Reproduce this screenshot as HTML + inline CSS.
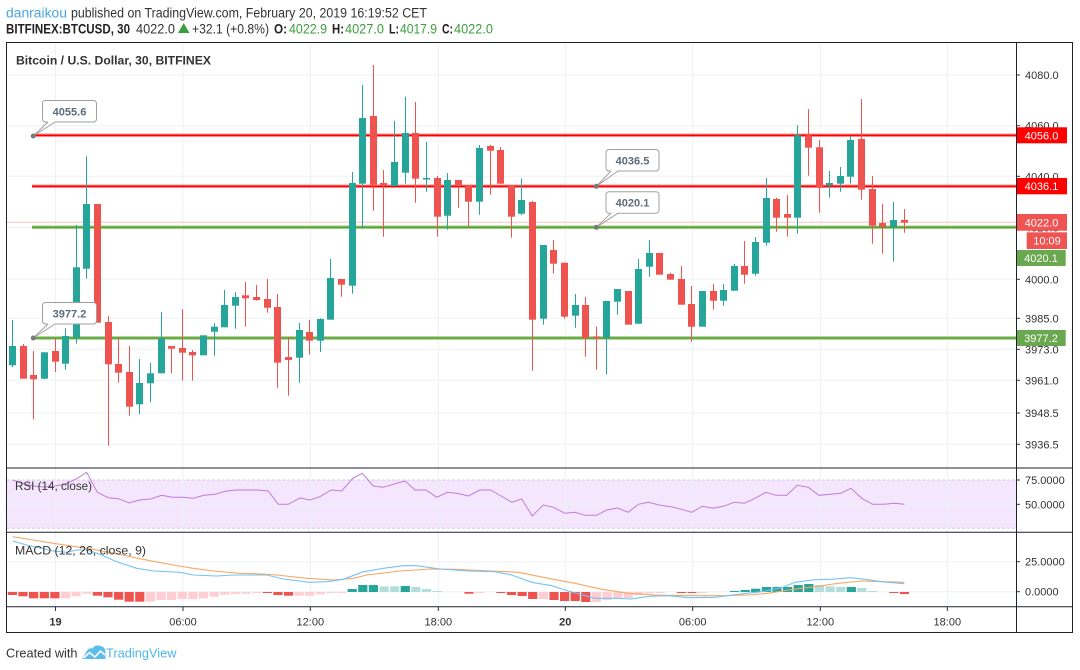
<!DOCTYPE html>
<html><head><meta charset="utf-8"><style>
html,body{margin:0;padding:0;background:#fff;}
svg{display:block;font-family:"Liberation Sans",Arial,sans-serif;}
</style></head><body>
<svg width="1080" height="670" viewBox="0 0 1080 670" xmlns="http://www.w3.org/2000/svg">
<rect width="1080" height="670" fill="#fff"/>
<!-- header -->
<text x="6" y="17.5" font-size="13.5" fill="#4aa8df" textLength="61" lengthAdjust="spacingAndGlyphs">danraikou</text>
<text x="71" y="17.5" font-size="13.5" fill="#333" textLength="356" lengthAdjust="spacingAndGlyphs">published on TradingView.com, February 20, 2019 16:19:52 CET</text>
<g font-size="13.5">
<text x="6" y="33.5" font-weight="bold" fill="#222" textLength="124" lengthAdjust="spacingAndGlyphs">BITFINEX:BTCUSD, 30</text>
<text x="136" y="33.5" fill="#333" textLength="39" lengthAdjust="spacingAndGlyphs">4022.0</text>
<polygon points="178,33 189.5,33 183.7,23" fill="#3a9f3a"/>
<text x="192" y="33.5" fill="#333" textLength="77" lengthAdjust="spacingAndGlyphs">+32.1 (+0.8%)</text>
<text x="274" y="33.5" font-weight="bold" fill="#222" textLength="13" lengthAdjust="spacingAndGlyphs">O:</text>
<text x="289" y="33.5" fill="#3a9f3a" textLength="38" lengthAdjust="spacingAndGlyphs">4022.9</text>
<text x="332" y="33.5" font-weight="bold" fill="#222" textLength="12" lengthAdjust="spacingAndGlyphs">H:</text>
<text x="345" y="33.5" fill="#3a9f3a" textLength="39" lengthAdjust="spacingAndGlyphs">4027.0</text>
<text x="389" y="33.5" font-weight="bold" fill="#222" textLength="10" lengthAdjust="spacingAndGlyphs">L:</text>
<text x="400" y="33.5" fill="#3a9f3a" textLength="37" lengthAdjust="spacingAndGlyphs">4017.9</text>
<text x="442" y="33.5" font-weight="bold" fill="#222" textLength="11" lengthAdjust="spacingAndGlyphs">C:</text>
<text x="454" y="33.5" fill="#3a9f3a" textLength="39" lengthAdjust="spacingAndGlyphs">4022.0</text>
</g>

<!-- RSI band -->
<rect x="7" y="480" width="1009" height="48.3" fill="#f3e6fd"/>
<line x1="7" y1="480" x2="1016" y2="480" stroke="#d9c7e8" stroke-dasharray="3,2"/>
<line x1="7" y1="528.3" x2="1016" y2="528.3" stroke="#d9c7e8" stroke-dasharray="3,2"/>

<!-- grid -->
<g stroke="#edf1f6" stroke-width="1">
<line x1="7" y1="75" x2="1016" y2="75"/><line x1="7" y1="125.7" x2="1016" y2="125.7"/><line x1="7" y1="176.3" x2="1016" y2="176.3"/><line x1="7" y1="227.5" x2="1016" y2="227.5"/><line x1="7" y1="279.3" x2="1016" y2="279.3"/><line x1="7" y1="318.3" x2="1016" y2="318.3"/><line x1="7" y1="349.3" x2="1016" y2="349.3"/><line x1="7" y1="380.3" x2="1016" y2="380.3"/><line x1="7" y1="413" x2="1016" y2="413"/><line x1="7" y1="444.3" x2="1016" y2="444.3"/>
<line x1="7" y1="504.3" x2="1016" y2="504.3"/><line x1="7" y1="561.7" x2="1016" y2="561.7"/><line x1="7" y1="591.7" x2="1016" y2="591.7"/>
<line x1="55.5" y1="42" x2="55.5" y2="607"/><line x1="183" y1="42" x2="183" y2="607"/><line x1="310.3" y1="42" x2="310.3" y2="607"/><line x1="438.3" y1="42" x2="438.3" y2="607"/><line x1="565.3" y1="42" x2="565.3" y2="607"/><line x1="692.7" y1="42" x2="692.7" y2="607"/><line x1="820.3" y1="42" x2="820.3" y2="607"/><line x1="947.3" y1="42" x2="947.3" y2="607"/>
</g>

<text x="16" y="64.3" font-size="11.7" font-weight="bold" fill="#333" textLength="195" lengthAdjust="spacingAndGlyphs">Bitcoin / U.S. Dollar, 30, BITFINEX</text>

<!-- current price line -->
<line x1="7" y1="222.3" x2="1016" y2="222.3" stroke="#f9c6c6" stroke-width="1"/>

<!-- horizontal drawn lines -->
<g>
<line x1="33" y1="135.3" x2="1016" y2="135.3" stroke="#ff9a9a" stroke-width="3.5"/>
<line x1="33" y1="135.3" x2="1016" y2="135.3" stroke="#ff0000" stroke-width="1.7"/>
<line x1="32" y1="186.3" x2="1016" y2="186.3" stroke="#ff9a9a" stroke-width="3.5"/>
<line x1="32" y1="186.3" x2="1016" y2="186.3" stroke="#ff0000" stroke-width="1.7"/>
<line x1="32" y1="227.3" x2="1016" y2="227.3" stroke="#b7d9a0" stroke-width="4"/>
<line x1="32" y1="227.3" x2="1016" y2="227.3" stroke="#4f9a2d" stroke-width="1.6"/>
<line x1="32" y1="338" x2="1016" y2="338" stroke="#b7d9a0" stroke-width="4"/>
<line x1="32" y1="338" x2="1016" y2="338" stroke="#4f9a2d" stroke-width="1.6"/>
</g>

<!-- green candles -->
<g fill="#26a69a">
<rect x="12" y="320" width="1" height="47"/><rect x="9" y="346" width="7" height="19.3"/>
<rect x="44" y="352.3" width="1" height="27"/><rect x="41" y="352.3" width="7" height="26.4"/>
<rect x="65" y="328.3" width="1" height="41.4"/><rect x="62" y="336" width="7" height="27.7"/>
<rect x="76" y="225" width="1" height="118.7"/><rect x="73" y="267.3" width="7" height="70.4"/>
<rect x="86" y="156.3" width="1" height="122.4"/><rect x="83" y="204" width="7" height="64.7"/>
<rect x="139" y="359" width="1" height="55.3"/><rect x="136" y="383" width="7" height="21.3"/>
<rect x="150" y="363" width="1" height="39.3"/><rect x="147" y="373.3" width="7" height="10"/>
<rect x="161" y="312" width="1" height="61.3"/><rect x="158" y="338.7" width="7" height="34.6"/>
<rect x="200" y="335.3" width="7" height="20"/>
<rect x="214" y="323.3" width="1" height="32.4"/><rect x="211" y="326.7" width="7" height="5"/>
<rect x="224" y="290" width="1" height="37.3"/><rect x="221" y="305" width="7" height="22.3"/>
<rect x="235" y="292" width="1" height="36.7"/><rect x="232" y="297" width="7" height="8.7"/>
<rect x="299" y="323" width="1" height="59.7"/><rect x="296" y="330" width="7" height="27.7"/>
<rect x="320" y="318.3" width="1" height="33.7"/><rect x="317" y="319" width="7" height="21.7"/>
<rect x="330" y="259" width="1" height="60.7"/><rect x="327" y="278" width="7" height="41.7"/>
<rect x="352" y="172" width="1" height="121.7"/><rect x="349" y="183" width="7" height="102.7"/>
<rect x="362" y="85" width="1" height="143.7"/><rect x="359" y="118" width="7" height="65.7"/>
<rect x="394" y="121" width="1" height="65"/><rect x="391" y="162" width="7" height="24"/>
<rect x="405" y="96.7" width="1" height="87"/><rect x="402" y="133" width="7" height="39.7"/>
<rect x="426" y="142" width="1" height="49.7"/><rect x="423" y="178" width="7" height="1.5"/>
<rect x="447" y="173" width="1" height="56.7"/><rect x="444" y="180" width="7" height="35.7"/>
<rect x="479" y="145" width="1" height="69.7"/><rect x="476" y="148" width="7" height="53.7"/>
<rect x="521" y="178.7" width="1" height="36.3"/><rect x="518" y="200" width="7" height="13.7"/>
<rect x="543" y="245" width="1" height="79.7"/><rect x="540" y="245" width="7" height="73.7"/>
<rect x="575" y="294" width="1" height="33.7"/><rect x="572" y="305" width="7" height="10.7"/>
<rect x="606" y="301" width="1" height="73.7"/><rect x="603" y="301" width="7" height="36.7"/>
<rect x="617" y="289" width="1" height="25.7"/><rect x="614" y="289" width="7" height="12.7"/>
<rect x="638" y="259" width="1" height="64.7"/><rect x="635" y="269" width="7" height="54.7"/>
<rect x="649" y="240" width="1" height="36.7"/><rect x="646" y="253" width="7" height="13.7"/>
<rect x="699" y="291" width="7" height="35.7"/>
<rect x="723" y="284" width="1" height="21.7"/><rect x="720" y="290" width="7" height="10.7"/>
<rect x="734" y="264" width="1" height="26.7"/><rect x="731" y="266" width="7" height="24.7"/>
<rect x="755" y="237" width="1" height="38.7"/><rect x="752" y="242" width="7" height="31.7"/>
<rect x="766" y="178" width="1" height="67.7"/><rect x="763" y="198" width="7" height="44.7"/>
<rect x="797" y="125" width="1" height="108.7"/><rect x="794" y="135.3" width="7" height="82.4"/>
<rect x="829" y="171" width="1" height="26.7"/><rect x="826" y="183" width="7" height="2.3"/>
<rect x="840" y="167" width="1" height="24.7"/><rect x="837" y="176" width="7" height="7.7"/>
<rect x="850" y="136" width="1" height="47.7"/><rect x="847" y="140" width="7" height="36.7"/>
<rect x="893" y="202" width="1" height="59.7"/><rect x="890" y="220" width="7" height="6.7"/>
</g>
<!-- red candles -->
<g fill="#ef5350">
<rect x="23" y="344" width="1" height="34.7"/><rect x="20" y="346" width="7" height="32.7"/>
<rect x="33" y="351" width="1" height="68.3"/><rect x="30" y="375" width="7" height="4.3"/>
<rect x="55" y="338" width="1" height="34"/><rect x="52" y="351" width="7" height="10.7"/>
<rect x="94" y="204" width="7" height="118.7"/>
<rect x="108" y="316" width="1" height="129.7"/><rect x="105" y="322" width="7" height="42.3"/>
<rect x="118" y="338.7" width="1" height="44"/><rect x="115" y="364" width="7" height="8.7"/>
<rect x="129" y="346" width="1" height="69.7"/><rect x="126" y="372" width="7" height="34.7"/>
<rect x="171" y="346" width="1" height="27.3"/><rect x="168" y="346" width="7" height="2.7"/>
<rect x="182" y="309" width="1" height="71.7"/><rect x="179" y="348" width="7" height="4.7"/>
<rect x="192" y="350" width="1" height="30.7"/><rect x="189" y="352" width="7" height="3.3"/>
<rect x="245" y="282" width="1" height="44.7"/><rect x="242" y="295.3" width="7" height="3"/>
<rect x="256" y="285" width="1" height="15.7"/><rect x="253" y="297" width="7" height="3"/>
<rect x="267" y="279" width="1" height="33.7"/><rect x="264" y="299" width="7" height="8.7"/>
<rect x="277" y="294" width="1" height="93.7"/><rect x="274" y="307" width="7" height="55.7"/>
<rect x="288" y="337" width="1" height="58.7"/><rect x="285" y="357" width="7" height="3"/>
<rect x="309" y="320" width="1" height="34.7"/><rect x="306" y="332" width="7" height="8.7"/>
<rect x="341" y="279" width="1" height="17.7"/><rect x="338" y="279" width="7" height="5.7"/>
<rect x="373" y="65" width="1" height="145.7"/><rect x="370" y="116" width="7" height="68.7"/>
<rect x="383" y="170" width="1" height="66.7"/><rect x="380" y="183" width="7" height="3"/>
<rect x="415" y="102" width="1" height="100.7"/><rect x="412" y="133" width="7" height="45.7"/>
<rect x="437" y="176" width="1" height="60.7"/><rect x="434" y="178" width="7" height="38.7"/>
<rect x="458" y="180" width="1" height="27.7"/><rect x="455" y="180" width="7" height="6"/>
<rect x="468" y="185" width="1" height="41.7"/><rect x="465" y="186" width="7" height="15.7"/>
<rect x="490" y="145" width="1" height="49.7"/><rect x="487" y="146" width="7" height="4.7"/>
<rect x="500" y="147" width="1" height="36.7"/><rect x="497" y="150" width="7" height="33.7"/>
<rect x="511" y="185" width="1" height="52.7"/><rect x="508" y="185" width="7" height="31.7"/>
<rect x="532" y="201" width="1" height="169.7"/><rect x="529" y="202" width="7" height="117.7"/>
<rect x="553" y="240" width="1" height="33.7"/><rect x="550" y="250" width="7" height="13.7"/>
<rect x="564" y="262.7" width="1" height="56"/><rect x="561" y="262.7" width="7" height="54"/>
<rect x="585" y="297" width="1" height="59.7"/><rect x="582" y="305" width="7" height="32.7"/>
<rect x="596" y="326.7" width="1" height="43"/><rect x="593" y="336.7" width="7" height="1.5"/>
<rect x="625" y="291" width="7" height="33.7"/>
<rect x="656" y="253" width="7" height="21.7"/>
<rect x="670" y="272.7" width="1" height="7"/><rect x="667" y="274" width="7" height="5.7"/>
<rect x="681" y="266" width="1" height="38.7"/><rect x="678" y="279" width="7" height="25.7"/>
<rect x="691" y="286" width="1" height="55.7"/><rect x="688" y="304" width="7" height="22.7"/>
<rect x="713" y="284" width="1" height="25.7"/><rect x="710" y="291" width="7" height="9.7"/>
<rect x="744" y="241" width="1" height="42.7"/><rect x="741" y="266" width="7" height="8.7"/>
<rect x="776" y="197.7" width="1" height="34"/><rect x="773" y="199" width="7" height="18.7"/>
<rect x="787" y="195" width="1" height="41.7"/><rect x="784" y="214" width="7" height="3.7"/>
<rect x="808" y="109" width="1" height="66.7"/><rect x="805" y="135.3" width="7" height="12.4"/>
<rect x="819" y="140" width="1" height="72.7"/><rect x="816" y="147.3" width="7" height="40.4"/>
<rect x="861" y="99" width="1" height="100.7"/><rect x="858" y="139" width="7" height="50.7"/>
<rect x="872" y="176" width="1" height="67.7"/><rect x="869" y="189" width="7" height="36.7"/>
<rect x="882" y="204" width="1" height="49.7"/><rect x="879" y="223" width="7" height="3.7"/>
<rect x="904" y="209" width="1" height="23.7"/><rect x="901" y="220" width="7" height="2.7"/>
</g>

<!-- callouts -->
<g font-size="11" font-weight="bold" fill="#5d6b7a" text-anchor="middle">
<g>
<rect x="42.5" y="100.5" width="54" height="21.5" rx="3" fill="#fff" stroke="#a0a0a0"/>
<polygon points="48,121.5 33.3,136 55,121.5" fill="#fff"/>
<polyline points="48,122 33.3,136 55,122" fill="none" stroke="#a0a0a0"/>
<circle cx="33.3" cy="136" r="2.5" fill="#7a7a7a"/>
<text x="69.5" y="115.5">4055.6</text>
</g>
<g>
<rect x="42.5" y="302.5" width="54" height="21.5" rx="3" fill="#fff" stroke="#a0a0a0"/>
<polygon points="48,323.5 33.3,338 55,323.5" fill="#fff"/>
<polyline points="48,324 33.3,338 55,324" fill="none" stroke="#a0a0a0"/>
<circle cx="33.3" cy="338" r="2.5" fill="#7a7a7a"/>
<text x="69.5" y="317.5">3977.2</text>
</g>
<g>
<rect x="606" y="149.5" width="53" height="21.5" rx="3" fill="#fff" stroke="#a0a0a0"/>
<polygon points="611,170.5 596.3,186.3 618,170.5" fill="#fff"/>
<polyline points="611,171 596.3,186.3 618,171" fill="none" stroke="#a0a0a0"/>
<circle cx="596.3" cy="186.3" r="2.5" fill="#7a7a7a"/>
<text x="632.5" y="164.5">4036.5</text>
</g>
<g>
<rect x="606" y="191.7" width="53" height="21.5" rx="3" fill="#fff" stroke="#a0a0a0"/>
<polygon points="611,212.7 596.3,227.3 618,212.7" fill="#fff"/>
<polyline points="611,213.2 596.3,227.3 618,213.2" fill="none" stroke="#a0a0a0"/>
<circle cx="596.3" cy="227.3" r="2.5" fill="#7a7a7a"/>
<text x="632.5" y="206.7">4020.1</text>
</g>
</g>

<!-- RSI -->
<polyline fill="none" stroke="#c27bd6" stroke-width="1" points="12.7,480 22.9,483.5 33.5,486 44.2,487 54.8,486 65.4,484 76,479 86.7,472.3 97.3,492.3 108.3,497.7 118.3,498.7 129.3,503 139.3,500 150.7,499 161.7,495.3 172.3,497.3 183.3,497.3 193.3,498.3 204,495.3 215,494.3 225,491.3 236,490 246.7,490 257.3,490 268.3,491 278.3,504.3 288.3,504.3 300,498 310,500 320,496.7 331,490 341.7,491 352.7,478.3 362.3,473.3 373.3,486 383.3,487.3 394.3,484 405,481 415,490 426,490 436.7,497.3 447.3,492.3 458,493.5 468.3,496 480,490 490.7,490 501,496 511.7,502.3 521.7,499 532.3,516 543.3,505 553.3,507.3 565,513.3 575,512.3 585,515.3 596.7,515.3 606.7,510 617.3,508 628.3,512.3 638.3,504.3 648.3,502.3 659,505 671,506.7 681.7,509.3 691.7,512.3 702.3,506.3 713.3,508.3 723.3,506.3 734.3,502.3 744.3,503.3 755,498.3 766,492.3 776,495.3 786.7,495.3 797.3,485.3 808.3,487.3 819,495.3 830,494.3 840.7,493.3 851,488.3 861.7,498.3 872.7,504.3 883.3,504.3 894.3,503.3 904.3,504.3"/>
<text x="15" y="490" font-size="12" fill="#333" textLength="77" lengthAdjust="spacingAndGlyphs">RSI (14, close)</text>

<!-- MACD histogram -->
<g fill="#ef5350">
<rect x="7.8" y="592" width="9.2" height="3"/><rect x="18.4" y="592" width="9.2" height="4.3"/><rect x="29" y="592" width="9.2" height="6.3"/><rect x="39.7" y="592" width="9.2" height="6.3"/><rect x="50.3" y="592" width="9.2" height="6.3"/>
<rect x="92.8" y="592" width="9.2" height="3.7"/><rect x="103.4" y="592" width="9.2" height="5.3"/><rect x="114" y="592" width="9.2" height="7.7"/><rect x="124.6" y="592" width="9.2" height="9.7"/><rect x="135.2" y="592" width="9.2" height="9.7"/>
<rect x="262.7" y="592" width="9.2" height="1"/><rect x="273.3" y="592" width="9.2" height="3"/><rect x="283.9" y="592" width="9.2" height="3.7"/>
<rect x="464.4" y="592" width="9.2" height="1.7"/>
<rect x="496.3" y="592" width="9.2" height="1"/><rect x="506.9" y="592" width="9.2" height="3"/><rect x="517.5" y="592" width="9.2" height="4"/><rect x="528.1" y="592" width="9.2" height="7"/>
<rect x="549.4" y="592" width="9.2" height="8"/><rect x="560" y="592" width="9.2" height="9"/><rect x="570.6" y="592" width="9.2" height="9"/><rect x="581.2" y="592" width="9.2" height="10"/>
<rect x="676.8" y="592" width="9.2" height="1"/><rect x="687.4" y="592" width="9.2" height="1"/>
<rect x="889.2" y="592" width="9.2" height="1"/><rect x="899.8" y="592" width="9.2" height="2"/>
</g>
<g fill="#ffcdd2">
<rect x="60.9" y="592" width="9.2" height="6.3"/><rect x="71.5" y="592" width="9.2" height="4.3"/><rect x="82.1" y="592" width="9.2" height="1.7"/>
<rect x="145.8" y="592" width="9.2" height="9.7"/><rect x="156.5" y="592" width="9.2" height="8"/><rect x="167.1" y="592" width="9.2" height="8"/><rect x="177.7" y="592" width="9.2" height="7"/><rect x="188.3" y="592" width="9.2" height="7"/><rect x="198.9" y="592" width="9.2" height="6.3"/><rect x="209.6" y="592" width="9.2" height="4.7"/><rect x="220.2" y="592" width="9.2" height="2.7"/><rect x="230.8" y="592" width="9.2" height="2"/><rect x="241.4" y="592" width="9.2" height="1.7"/><rect x="252" y="592" width="9.2" height="1"/>
<rect x="294.5" y="592" width="9.2" height="3.7"/><rect x="305.1" y="592" width="9.2" height="3.7"/><rect x="315.8" y="592" width="9.2" height="2.3"/><rect x="326.4" y="592" width="9.2" height="1"/><rect x="337" y="592" width="9.2" height="1"/>
<rect x="475" y="592" width="9.2" height="1"/>
<rect x="538.8" y="592" width="9.2" height="7"/><rect x="591.8" y="592" width="9.2" height="10"/><rect x="602.5" y="592" width="9.2" height="8"/><rect x="613.1" y="592" width="9.2" height="6.3"/><rect x="623.7" y="592" width="9.2" height="6.3"/><rect x="634.3" y="592" width="9.2" height="3"/><rect x="644.9" y="592" width="9.2" height="1.3"/><rect x="655.6" y="592" width="9.2" height="1"/>
<rect x="698" y="592" width="9.2" height="1"/>
</g>
<g fill="#26a69a">
<rect x="347.6" y="589" width="9.2" height="3"/><rect x="358.2" y="585" width="9.2" height="7"/><rect x="368.8" y="585" width="9.2" height="7"/><rect x="400.7" y="586" width="9.2" height="6"/>
<rect x="729.9" y="591" width="9.2" height="1"/><rect x="740.5" y="590" width="9.2" height="2"/><rect x="751.1" y="588.7" width="9.2" height="3.3"/><rect x="761.8" y="587" width="9.2" height="5"/><rect x="772.4" y="587" width="9.2" height="5"/><rect x="783" y="587" width="9.2" height="5"/><rect x="793.6" y="585" width="9.2" height="7"/><rect x="804.2" y="584" width="9.2" height="8"/><rect x="846.7" y="587" width="9.2" height="5"/>
</g>
<g fill="#b2dfdb">
<rect x="379.5" y="586.3" width="9.2" height="5.7"/><rect x="390.1" y="586.3" width="9.2" height="5.7"/><rect x="411.3" y="587" width="9.2" height="5"/><rect x="421.9" y="589" width="9.2" height="3"/><rect x="432.6" y="591" width="9.2" height="1"/>
<rect x="814.8" y="585" width="9.2" height="7"/><rect x="825.5" y="586.3" width="9.2" height="5.7"/><rect x="836.1" y="587" width="9.2" height="5"/><rect x="857.3" y="588" width="9.2" height="4"/><rect x="867.9" y="591" width="9.2" height="1"/>
</g>
<polyline fill="none" stroke="#f8a664" stroke-width="1.1" points="12.7,536.7 33,540 53.3,543.3 86.7,548.3 110,552.3 133.3,557.3 150,560.7 173.3,565 193.3,568.3 213.3,571 240,573.3 263.3,574 276.7,575 306.7,578.3 333.3,580 353.3,578.3 366.7,575 400,571 430,569 455,569.3 491.7,571 518.3,572.3 548.3,578.3 575,583.3 601.7,589.3 628.3,593.3 655,595 688.3,595.7 721.7,595.7 748.3,595 768.3,593.3 788.3,590 815,586.7 838.3,583.3 861.7,581 885,581.7 904.3,582.3"/>
<polyline fill="none" stroke="#74c3f4" stroke-width="1.1" points="12.7,541 26.7,545 53.3,551 66.7,552.3 76.7,550 86.7,550 100,554.3 116.7,561.7 136.7,568.3 153.3,571 180,572.3 193.3,575 216.7,576 233.3,575 266.7,575 283.3,579 310,582.3 326.7,581.7 343.3,579.3 363.3,571.7 383.3,568.3 403.3,565.7 416.7,565.7 440,569 455,570 468.3,571 495,571.7 511.7,575 531.7,582.3 551.7,585.7 568.3,591 595,598.3 615,598.3 631.7,599 648.3,596.3 668.3,595.7 688.3,597.7 715,597.3 738.3,594.3 761.7,591.7 781.7,587.7 795,582.3 815,579.7 831.7,579.3 850,577.7 865,579.3 881.7,581.7 904.3,583.7"/>
<text x="15" y="554.5" font-size="12" fill="#333" textLength="131" lengthAdjust="spacingAndGlyphs">MACD (12, 26, close, 9)</text>

<!-- axis area background -->
<rect x="1017" y="43" width="55" height="589" fill="#fff"/>

<!-- right axis ticks and labels -->
<g stroke="#333" stroke-width="1">
<line x1="1016" y1="75" x2="1020" y2="75"/><line x1="1016" y1="125.7" x2="1020" y2="125.7"/><line x1="1016" y1="176.3" x2="1020" y2="176.3"/><line x1="1016" y1="227.5" x2="1020" y2="227.5"/><line x1="1016" y1="279.3" x2="1020" y2="279.3"/><line x1="1016" y1="318.3" x2="1020" y2="318.3"/><line x1="1016" y1="349.3" x2="1020" y2="349.3"/><line x1="1016" y1="380.3" x2="1020" y2="380.3"/><line x1="1016" y1="413" x2="1020" y2="413"/><line x1="1016" y1="444.3" x2="1020" y2="444.3"/>
<line x1="1016" y1="480" x2="1020" y2="480"/><line x1="1016" y1="504.3" x2="1020" y2="504.3"/><line x1="1016" y1="561.7" x2="1020" y2="561.7"/><line x1="1016" y1="591.7" x2="1020" y2="591.7"/>
</g>
<g font-size="11" fill="#333">
<text x="1025" y="79">4080.0</text><text x="1025" y="129.7">4060.0</text><text x="1025" y="180.3">4040.0</text><text x="1025" y="231.5">4020.0</text><text x="1025" y="283.3">4000.0</text><text x="1025" y="322.3">3985.0</text><text x="1025" y="353.3">3973.0</text><text x="1025" y="384.3">3961.0</text><text x="1025" y="417">3948.5</text><text x="1025" y="448.3">3936.5</text>
<text x="1025" y="484">75.0000</text><text x="1025" y="508.3">50.0000</text><text x="1025" y="565.7">25.0000</text><text x="1025" y="595.7">0.0000</text>
</g>
<!-- price boxes -->
<g font-size="11" fill="#fff" text-anchor="middle">
<rect x="1016" y="127.3" width="51" height="16" fill="#ff0000"/><text x="1041.5" y="139.3" fill="#fff">4056.0</text>
<rect x="1016" y="178" width="51" height="16.3" fill="#ff0000"/><text x="1041.5" y="190.2" fill="#fff">4036.1</text>
<rect x="1016" y="214" width="51" height="16.7" fill="#f05452"/><text x="1041.5" y="226.4" fill="#fff">4022.0</text>
<rect x="1026.7" y="232.3" width="40.3" height="16.7" fill="#f05452"/><text x="1047" y="244.7" fill="#fff">10:09</text>
<rect x="1016" y="250" width="49.7" height="16" fill="#6aa84f"/><text x="1041" y="262" fill="#fff">4020.1</text>
<rect x="1016" y="330" width="49.7" height="16" fill="#6aa84f"/><text x="1041" y="342" fill="#fff">3977.2</text>
</g>

<!-- time axis -->
<g stroke="#333"><line x1="55.5" y1="607" x2="55.5" y2="611"/><line x1="183" y1="607" x2="183" y2="611"/><line x1="310.3" y1="607" x2="310.3" y2="611"/><line x1="438.3" y1="607" x2="438.3" y2="611"/><line x1="565.3" y1="607" x2="565.3" y2="611"/><line x1="692.7" y1="607" x2="692.7" y2="611"/><line x1="820.3" y1="607" x2="820.3" y2="611"/><line x1="947.3" y1="607" x2="947.3" y2="611"/></g>
<g font-size="11" fill="#333" text-anchor="middle">
<text x="55.5" y="625.5" font-weight="bold">19</text><text x="183" y="625.5">06:00</text><text x="310.3" y="625.5">12:00</text><text x="438.3" y="625.5">18:00</text><text x="565.3" y="625.5" font-weight="bold">20</text><text x="692.7" y="625.5">06:00</text><text x="820.3" y="625.5">12:00</text><text x="947.3" y="625.5">18:00</text>
</g>

<!-- frame -->
<g stroke="#1e222d" stroke-width="1" fill="none">
<rect x="6.5" y="42.5" width="1066" height="590"/>
<line x1="1016.5" y1="42.5" x2="1016.5" y2="632.5"/>
<line x1="6.5" y1="468" x2="1072.5" y2="468"/>
<line x1="6.5" y1="532.3" x2="1072.5" y2="532.3"/>
<line x1="6.5" y1="606.7" x2="1072.5" y2="606.7"/>
</g>

<!-- footer -->
<text x="6" y="657.3" font-size="12.5" fill="#333" textLength="71.5" lengthAdjust="spacingAndGlyphs">Created with</text>
<path d="M82,659 L86.5,651.5 Q88.5,647.5 92.5,648.5 Q95.5,644 100.5,646 Q105.5,647 105.5,652 L105.5,659 Z" fill="#5bbde9"/>
<polyline points="83.5,658 89.5,652.5 95,657 100.5,651 105,655" fill="none" stroke="#fff" stroke-width="1.6"/>
<text x="106" y="657.3" font-size="12.5" fill="#4db6e8" textLength="70.5" lengthAdjust="spacingAndGlyphs">TradingView</text>
</svg>
</body></html>
